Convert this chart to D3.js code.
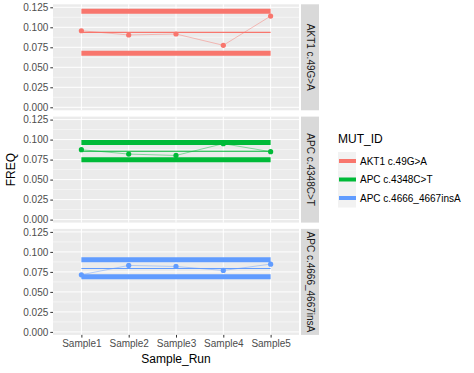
<!DOCTYPE html>
<html><head><meta charset="utf-8">
<script src="https://cdn.jsdelivr.net/npm/d3@7"></script>
<style>body{margin:0;background:#fff}svg{font-family:"Liberation Sans",Arial,sans-serif}</style>
</head><body><svg id="c" width="474" height="373"></svg>
<script>
const samples = ["Sample1","Sample2","Sample3","Sample4","Sample5"];
const mutIds = ["AKT1 c.49G>A","APC c.4348C>T","APC c.4666_4667insA"];
const colors = ["#F8766D","#00BA38","#619CFF"];
const freqAKT1 = [0.0957,0.0904,0.0916,0.0775,0.1140];
const freqAPC1 = [0.0874,0.0819,0.0802,0.0949,0.0849];
const freqAPC2 = [0.0714,0.0831,0.0818,0.0768,0.0847];
const meanLine = [0.0937,0.0855,0.0793];
const upperLine = [0.1200,0.0965,0.0903];
const lowerLine = [0.0675,0.0748,0.0689];
const yTicks = [0,0.025,0.05,0.075,0.1,0.125];
const series = [freqAKT1,freqAPC1,freqAPC2];

const svg = d3.select("#c");
const pl = 53, pr = 299, stripW = 18;
const panelTops = [4.3, 116.6, 228.9], ph = 106;
const x = d3.scalePoint().domain(samples).range([pl,pr]).padding(0.6);

panelTops.forEach((top,i)=>{
  const y = d3.scaleLinear().domain([-0.00375,0.12875]).range([top+ph, top]);
  const g = svg.append("g");
  g.append("rect").attr("x",pl).attr("y",top).attr("width",pr-pl).attr("height",ph).attr("fill","#ebebeb");
  yTicks.slice(0,-1).forEach(t=>{
    g.append("line").attr("x1",pl).attr("x2",pr).attr("y1",y(t+0.0125)).attr("y2",y(t+0.0125)).attr("stroke","#fff").attr("stroke-width",0.5);
  });
  yTicks.forEach(t=>{
    g.append("line").attr("x1",pl).attr("x2",pr).attr("y1",y(t)).attr("y2",y(t)).attr("stroke","#fff").attr("stroke-width",1);
  });
  samples.forEach(s=>{
    g.append("line").attr("x1",x(s)).attr("x2",x(s)).attr("y1",top).attr("y2",top+ph).attr("stroke","#fff").attr("stroke-width",1);
  });
  const c = colors[i];
  const x0 = x(samples[0]), x1 = x(samples[samples.length-1]);
  [upperLine[i], lowerLine[i]].forEach(v=>{
    g.append("line").attr("x1",x0).attr("x2",x1).attr("y1",y(v)).attr("y2",y(v)).attr("stroke",c).attr("stroke-width",5);
  });
  g.append("line").attr("x1",x0).attr("x2",x1).attr("y1",y(meanLine[i])).attr("y2",y(meanLine[i])).attr("stroke",c).attr("stroke-width",1.1);
  const line = d3.line().x((d,j)=>x(samples[j])).y(d=>y(d));
  g.append("path").attr("d",line(series[i])).attr("fill","none").attr("stroke",c).attr("stroke-opacity",0.45).attr("stroke-width",1);
  series[i].forEach((v,j)=>{
    g.append("circle").attr("cx",x(samples[j])).attr("cy",y(v)).attr("r",2.6).attr("fill",c);
  });
  const ax = g.append("g").attr("transform",`translate(${pl},0)`).call(d3.axisLeft(y).tickValues(yTicks).tickFormat(d3.format(".3f")).tickSize(2.7).tickPadding(2));
  ax.select(".domain").remove();
  ax.selectAll("line").attr("stroke","#333");
  ax.selectAll("text").attr("fill","#4d4d4d").style("font-size","10px");
  g.append("rect").attr("x",pr+2).attr("y",top).attr("width",stripW).attr("height",ph).attr("fill","#d9d9d9");
  g.append("text").attr("transform",`translate(${pr+2+stripW/2},${top+ph/2}) rotate(90)`).attr("text-anchor","middle").attr("dy","0.35em").attr("fill","#1a1a1a").style("font-size","10px").text(mutIds[i]);
});

const bottom = panelTops[2]+ph;
const xa = svg.append("g").attr("transform",`translate(0,${bottom})`).call(d3.axisBottom(x).tickSize(2.7).tickPadding(2));
xa.select(".domain").remove();
xa.selectAll("line").attr("stroke","#333");
xa.selectAll("text").attr("fill","#4d4d4d").style("font-size","10px");

svg.append("text").attr("x",(pl+pr)/2).attr("y",363).attr("text-anchor","middle").style("font-size","12px").attr("fill","#000").text("Sample_Run");
svg.append("text").attr("transform",`translate(15,${(panelTops[0]+bottom)/2}) rotate(-90)`).attr("text-anchor","middle").style("font-size","12px").attr("fill","#000").text("FREQ");

const lg = svg.append("g");
lg.append("text").attr("x",338).attr("y",143).style("font-size","12px").attr("fill","#000").text("MUT_ID");
mutIds.forEach((m,i)=>{
  const ky = 152 + i*18.5;
  lg.append("rect").attr("x",338).attr("y",ky).attr("width",18).attr("height",18.5).attr("fill","#f2f2f2");
  lg.append("line").attr("x1",339).attr("x2",356).attr("y1",ky+9).attr("y2",ky+9).attr("stroke",colors[i]).attr("stroke-width",4);
  lg.append("text").attr("x",360).attr("y",ky+9).attr("dy","0.35em").style("font-size","10px").attr("fill","#000").text(m);
});
</script></body></html>
